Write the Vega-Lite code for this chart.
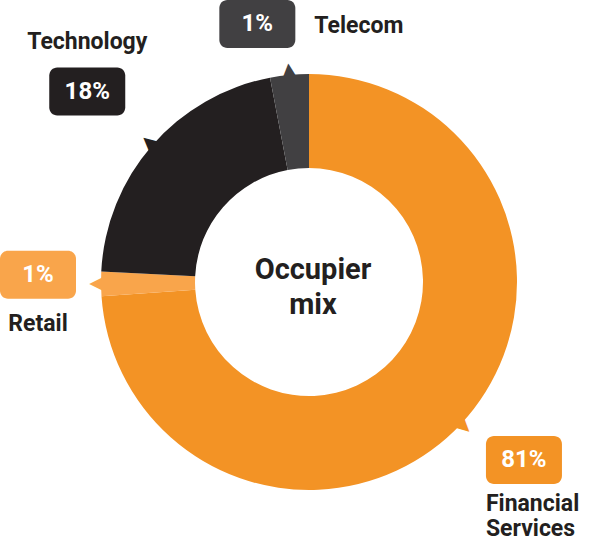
{
  "$schema": "https://vega.github.io/schema/vega-lite/v6.json",
  "width": 594,
  "height": 544,
  "padding": 0,
  "autosize": {"type": "none"},
  "background": "white",
  "config": {"view": {"stroke": null}, "font": "Roboto"},
  "data": {
    "values": [
      {"category": "Financial Services", "name": "Financial\nServices", "value": 73.9, "label": "81%", "ord": 1},
      {"category": "Retail", "name": "Retail", "value": 1.9, "label": "1%", "ord": 2},
      {"category": "Technology", "name": "Technology", "value": 21.2, "label": "18%", "ord": 3},
      {"category": "Telecom", "name": "Telecom", "value": 3.0, "label": "1%", "ord": 4}
    ]
  },
  "layer": [
    {
      "mark": {"type": "arc", "outerRadius": 208, "innerRadius": 114},
      "encoding": {
        "theta": {"field": "value", "type": "quantitative", "stack": true},
        "order": {"field": "ord", "type": "quantitative"},
        "color": {
          "field": "category",
          "type": "nominal",
          "scale": {"domain": ["Financial Services", "Retail", "Technology", "Telecom"], "range": ["#F39325", "#F9A54B", "#231F20", "#414042"]},
          "legend": null
        },
        "x": {"datum": 0, "type": "quantitative", "scale": {"domain": [-309, 285], "nice": false, "zero": false}, "axis": null},
        "y": {"datum": 0, "type": "quantitative", "scale": {"domain": [-282, 262], "nice": false, "zero": false, "reverse": true}, "axis": null}
      }
    },
    {
      "transform": [
        {"joinaggregate": [{"op": "sum", "field": "value", "as": "total"}]},
        {"stack": "value", "groupby": [], "sort": [{"field": "ord", "order": "ascending"}], "as": ["v0", "v1"]},
        {"calculate": "PI * (datum.v0 + datum.v1) / datum.total", "as": "mid"},
        {"calculate": "datum.mid * 180 / PI", "as": "deg"},
        {"calculate": "212 * sin(datum.mid)", "as": "px"},
        {"calculate": "-212 * cos(datum.mid)", "as": "py"},
        {"calculate": "clamp(294 * sin(datum.mid), -271, 247) - (datum.deg > 340 ? 24 : 0)", "as": "bx"},
        {"calculate": "clamp(-290 * cos(datum.mid), -258, 178) - (datum.deg >= 180 && datum.deg <= 300 ? 10 : 0)", "as": "by"},
        {"calculate": "datum.bx - 38", "as": "bx1"},
        {"calculate": "datum.bx + 38", "as": "bx2"},
        {"calculate": "datum.by - 24", "as": "by1"},
        {"calculate": "datum.by + 24", "as": "by2"},
        {"calculate": "datum.deg < 180 ? datum.bx - 38 : (datum.deg > 340 ? datum.bx + 57 : datum.bx)", "as": "nx"},
        {"calculate": "datum.deg < 180 ? datum.by + 44 : (datum.deg > 340 ? datum.by + 2 : (datum.deg > 300 ? datum.by - 50 : datum.by + 49))", "as": "ny"}
      ],
      "layer": [
        {
          "mark": {"type": "text", "text": "▲", "font": "DejaVu Sans", "fontSize": 21, "align": "center", "baseline": "middle"},
          "encoding": {
            "x": {"field": "px", "type": "quantitative", "scale": {"domain": [-309, 285], "nice": false, "zero": false}, "axis": null},
            "y": {"field": "py", "type": "quantitative", "scale": {"domain": [-282, 262], "nice": false, "zero": false, "reverse": true}, "axis": null},
            "angle": {"field": "deg", "type": "quantitative", "scale": null},
            "color": {"field": "category", "type": "nominal", "legend": null}
          }
        },
        {
          "mark": {"type": "rect", "cornerRadius": 8},
          "encoding": {
            "x": {"field": "bx1", "type": "quantitative", "scale": {"domain": [-309, 285], "nice": false, "zero": false}, "axis": null},
            "x2": {"field": "bx2"},
            "y": {"field": "by1", "type": "quantitative", "scale": {"domain": [-282, 262], "nice": false, "zero": false, "reverse": true}, "axis": null},
            "y2": {"field": "by2"},
            "color": {"field": "category", "type": "nominal", "legend": null}
          }
        },
        {
          "mark": {"type": "text", "color": "white", "fontWeight": "bold", "fontSize": 24, "align": "center", "baseline": "middle"},
          "encoding": {
            "x": {"field": "bx", "type": "quantitative", "scale": {"domain": [-309, 285], "nice": false, "zero": false}, "axis": null},
            "y": {"field": "by", "type": "quantitative", "scale": {"domain": [-282, 262], "nice": false, "zero": false, "reverse": true}, "axis": null},
            "text": {"field": "label"}
          }
        },
        {
          "transform": [{"filter": "datum.deg < 180 || datum.deg > 340"}],
          "mark": {"type": "text", "color": "#231F20", "fontWeight": "bold", "fontSize": 23, "align": "left", "baseline": "middle", "lineBreak": "\n", "lineHeight": 25},
          "encoding": {
            "x": {"field": "nx", "type": "quantitative", "scale": {"domain": [-309, 285], "nice": false, "zero": false}, "axis": null},
            "y": {"field": "ny", "type": "quantitative", "scale": {"domain": [-282, 262], "nice": false, "zero": false, "reverse": true}, "axis": null},
            "text": {"field": "name"}
          }
        },
        {
          "transform": [{"filter": "datum.deg >= 180 && datum.deg <= 340"}],
          "mark": {"type": "text", "color": "#231F20", "fontWeight": "bold", "fontSize": 23, "align": "center", "baseline": "middle", "lineBreak": "\n", "lineHeight": 25},
          "encoding": {
            "x": {"field": "nx", "type": "quantitative", "scale": {"domain": [-309, 285], "nice": false, "zero": false}, "axis": null},
            "y": {"field": "ny", "type": "quantitative", "scale": {"domain": [-282, 262], "nice": false, "zero": false, "reverse": true}, "axis": null},
            "text": {"field": "name"}
          }
        }
      ]
    },
    {
      "data": {"values": [{"title": "Occupier\nmix"}]},
      "mark": {"type": "text", "color": "#231F20", "fontWeight": "bold", "fontSize": 29, "align": "center", "baseline": "middle", "lineBreak": "\n", "lineHeight": 35, "dy": -12},
      "encoding": {
        "x": {"datum": 4, "type": "quantitative", "scale": {"domain": [-309, 285], "nice": false, "zero": false}, "axis": null},
        "y": {"datum": 0, "type": "quantitative", "scale": {"domain": [-282, 262], "nice": false, "zero": false, "reverse": true}, "axis": null},
        "text": {"field": "title"}
      }
    }
  ]
}
